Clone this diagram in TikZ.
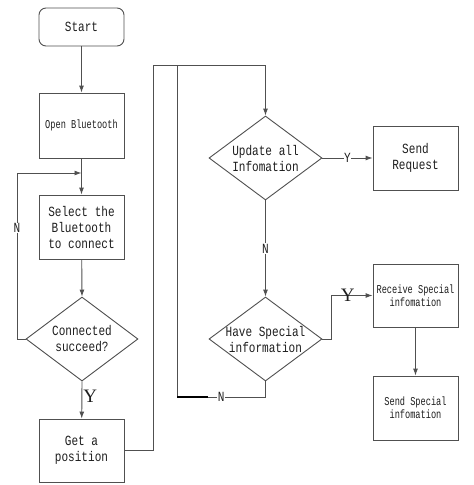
\documentclass[tikz,border=0pt]{standalone}
\usepackage{fontspec}
\usetikzlibrary{arrows.meta,shapes.geometric}
\newfontfamily\bigf[FakeStretch=0.79]{Liberation Mono}
\newfontfamily\smallf[FakeStretch=0.72]{Liberation Mono}
\newfontfamily\ylab{Liberation Serif}
\definecolor{ln}{RGB}{80,80,80}
\definecolor{tx}{RGB}{30,30,30}
\tikzset{
  box/.style={draw=ln, line width=0.9pt, minimum width=85pt, inner sep=0pt, align=center, text=tx, font=\bigf\fontsize{14}{16}\selectfont},
  sbox/.style={box, font=\smallf\fontsize{12}{13}\selectfont},
  dia/.style={draw=ln, line width=0.9pt, shape=diamond, inner sep=0pt, minimum width=113pt, minimum height=84pt},
  conn/.style={draw=ln, line width=0.9pt, -{Latex[length=7pt,width=5pt]}},
  plain/.style={draw=ln, line width=0.9pt},
  lab/.style={fill=white, inner sep=0.5pt, text=tx, font=\bigf\fontsize{14}{14}\selectfont},
  biglab/.style={fill=white, inner sep=0pt, text=tx, font=\ylab\fontsize{19}{19}\selectfont}
}
\begin{document}
\begin{tikzpicture}[x=1pt,y=-1pt]
\useasboundingbox[fill=white] (0,0) rectangle (474,485);
% left column
\node[box, rounded corners=7pt, minimum height=38pt] (start) at (81.5,27) {Start};
\node[sbox, minimum height=65pt] (open) at (81.5,125.5) {Open Bluetooth};
\node[box, minimum height=64pt] (sel) at (81.5,227) {Select the\\Bluetooth\\to connect};
\node[dia, minimum width=112pt, label={[box,draw=none,minimum width=0pt]center:Connected\\succeed?}] (cs) at (82,339) {};
\node[box, minimum height=63pt] (gp) at (81.5,450.5) {Get a\\position};
% right part
\node[dia, label={[box,draw=none,minimum width=0pt]center:Update all\\Infomation}] (upd) at (265.5,158) {};
\node[box, minimum height=64pt] (sr) at (415.5,158) {Send\\Request};
\node[dia, label={[box,draw=none,minimum width=0pt]center:Have Special\\information}] (hs) at (265.5,339) {};
\node[sbox, minimum height=63pt] (rs) at (415.5,295.5) {Receive Special\\infomation};
\node[sbox, minimum height=64pt] (ss) at (415.5,408) {Send Special\\infomation};
% coordinates
\coordinate (fb) at (81.5,173);
\coordinate (fl) at (17,339);
\coordinate (t1) at (153,65);
\coordinate (t2) at (265.5,65);
\coordinate (t3) at (177,65);
\coordinate (nb) at (177,397);
\coordinate (nt) at (208,397);
\coordinate (hy) at (331,339);
% connectors
\draw[conn] (start) -- (open);
\draw[conn] (open) -- (sel);
\draw[conn] (sel) -- (cs.north);
\draw[conn] (cs.south) -- node[pos=0.4, right=1pt, biglab, fill=none] {Y} (gp);
\draw[conn] (cs.west) -- (fl) |- (fb);
\node[lab] (nl) at (17,228) {N};
\draw[conn] (gp.east) -| (t1) -- (t2) -- (upd.north);
\draw[conn] (upd.east) -- node[pos=0.5, lab] {Y} (sr);
\draw[conn] (upd.south) -- node[pos=0.5, lab] {N} (hs.north);
\draw[conn] (hs.east) -- (hy) |- node[pos=0.7, biglab, fill=none] {Y} (rs.west);
\draw[conn] (rs) -- (ss);
\draw[plain] (hs.south) |- node[pos=0.75, lab] {N} (nb) -- (t3);
\draw[line width=1.8pt, black] (nb) -- (nt);
\end{tikzpicture}
\end{document}
